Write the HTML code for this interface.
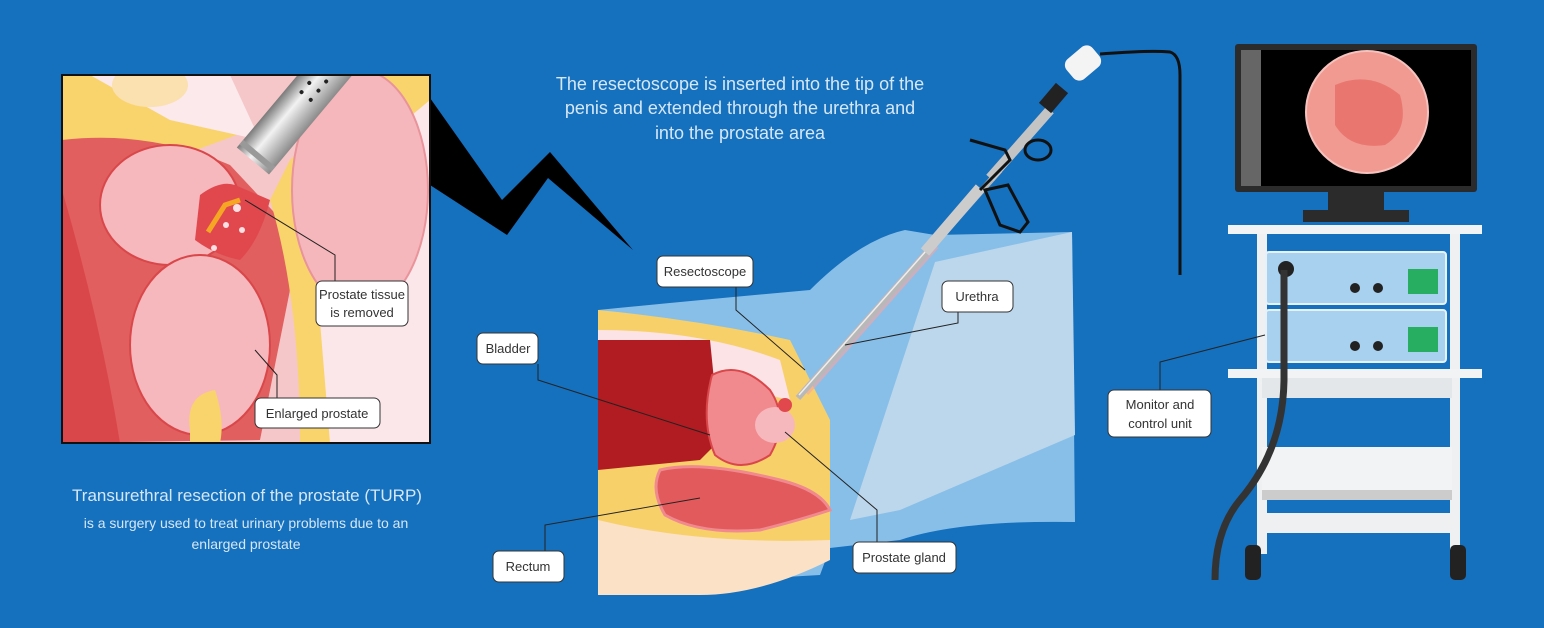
<!DOCTYPE html>
<html><head><meta charset="utf-8"><style>
html,body{margin:0;padding:0;background:#1570bd;}
svg{display:block;font-family:"Liberation Sans",sans-serif;}
.lb{fill:#fff;stroke:#333;stroke-width:1;}
.lt{font-size:13px;fill:#333;text-anchor:middle;}
.ln{stroke:#222;stroke-width:1;fill:none;}
</style></head><body>
<svg width="1544" height="628" viewBox="0 0 1544 628" xmlns="http://www.w3.org/2000/svg">
<defs>
<linearGradient id="met" x1="0" y1="0" x2="1" y2="0">
<stop offset="0" stop-color="#7a7a7a"/><stop offset="0.4" stop-color="#f2f2f2"/><stop offset="1" stop-color="#8a8a8a"/>
</linearGradient>
<clipPath id="ic"><rect x="62" y="75" width="368" height="368"/></clipPath>
</defs>
<rect width="1544" height="628" fill="#1570bd"/>

<polygon points="430,98 502,200 550,152 633,250 548,178 507,235 430,185" fill="#000"/>

<g clip-path="url(#ic)">
<rect x="62" y="75" width="368" height="368" fill="#f6c7c9"/>
<path d="M62,75 L200,75 Q230,120 250,130 L62,200Z" fill="#f9d46c"/>
<path d="M90,75 L230,75 L260,140 L170,120Z" fill="#fbe9ec"/>
<ellipse cx="150" cy="85" rx="38" ry="22" fill="#fbe0b0"/>
<path d="M62,140 Q150,130 230,165 L300,240 L260,440 L62,443Z" fill="#e15f5f"/>
<path d="M62,190 L62,443 L120,443 Q100,320 62,190Z" fill="#d9474a"/>
<path d="M290,160 L380,75 L430,75 L430,443 L300,443 Q300,300 270,200Z" fill="#f9d46c"/>
<path d="M310,200 L430,100 L430,443 L330,443Z" fill="#fbe6ea"/>
<ellipse cx="360" cy="190" rx="68" ry="120" fill="#f5b7bb" stroke="#e8949a" stroke-width="2"/>
<ellipse cx="170" cy="205" rx="70" ry="60" fill="#f6b8bc" stroke="#d9474a" stroke-width="2"/>
<ellipse cx="200" cy="345" rx="70" ry="90" fill="#f6b8bc" stroke="#d9474a" stroke-width="2"/>
<path d="M190,430 Q185,395 215,390 Q225,420 220,443 L190,443Z" fill="#f9d46c"/>
<path d="M200,195 Q220,180 235,185 L270,200 Q260,240 240,260 Q215,255 195,240Z" fill="#e0484e"/>
<path d="M208,232 L225,205 L240,200" stroke="#f5a623" stroke-width="5" fill="none"/>
<circle cx="237" cy="208" r="4" fill="#fbe0e3"/><circle cx="226" cy="225" r="3" fill="#fbe0e3"/><circle cx="214" cy="248" r="3" fill="#fbe0e3"/><circle cx="242" cy="230" r="3" fill="#fbe0e3"/>
<g transform="translate(265,145) rotate(40)">
<rect x="-20" y="-120" width="42" height="140" fill="url(#met)"/>
<rect x="-20" y="10" width="42" height="6" fill="#999"/>
<g fill="#222"><circle cx="-6" cy="-100" r="2"/><circle cx="6" cy="-100" r="2"/><circle cx="-6" cy="-88" r="2"/><circle cx="6" cy="-88" r="2"/><circle cx="-6" cy="-76" r="2"/><circle cx="6" cy="-76" r="2"/><circle cx="-6" cy="-64" r="2"/><circle cx="6" cy="-64" r="2"/></g>
</g>
</g>
<rect x="62" y="75" width="368" height="368" fill="none" stroke="#111" stroke-width="2"/>
<path class="ln" d="M245,200 L335,255 L335,283"/>
<path class="ln" d="M255,350 L277,375 L277,400"/>
<rect class="lb" x="316" y="281" width="92" height="45" rx="6"/>
<text class="lt" x="362" y="299">Prostate tissue</text><text class="lt" x="362" y="317">is removed</text>
<rect class="lb" x="255" y="398" width="125" height="30" rx="6"/>
<text class="lt" x="317" y="418">Enlarged prostate</text>

<path d="M598,310 Q700,300 810,290 Q860,240 905,230 L935,235 L1072,232 L1075,522 Q960,520 900,540 L830,548 L820,575 L650,585 L598,590Z" fill="#8ec3ea" opacity="0.95"/>
<path d="M935,262 L1072,232 L1075,435 L900,510 L850,520Z" fill="#bcd7ec"/>
<path d="M598,310 Q700,320 790,340 L830,420 L830,548 Q780,590 700,590 L598,590Z" fill="#f8d06a"/>
<path d="M598,330 Q700,330 780,360 L790,400 L700,380 L598,360Z" fill="#fbe3e6"/>
<path d="M598,340 L710,340 L720,440 L700,460 L598,470Z" fill="#b01c22"/>
<path d="M712,375 Q740,360 770,390 Q790,420 770,455 Q740,475 715,455 Q700,420 712,375Z" fill="#f08a8e" stroke="#d9474a" stroke-width="2"/>
<ellipse cx="775" cy="425" rx="20" ry="18" fill="#f6b8bc"/>
<path d="M660,470 Q700,460 780,480 Q820,490 830,510 Q800,520 760,530 Q700,535 665,515 Q650,490 660,470Z" fill="#e35a5c" stroke="#f08a8e" stroke-width="3"/>
<path d="M598,520 Q700,545 830,540 L830,560 Q760,595 700,595 L598,595Z" fill="#fbe1c6"/>
<line x1="805" y1="392" x2="935" y2="245" stroke="#f6a5a5" stroke-width="9" opacity="0.6"/>
<line x1="798" y1="398" x2="1000" y2="170" stroke="#b8b8b8" stroke-width="6"/>
<line x1="799" y1="395" x2="1000" y2="167" stroke="#eee" stroke-width="1.5"/>
<line x1="925" y1="252" x2="980" y2="188" stroke="#ccc" stroke-width="11"/>
<line x1="990" y1="178" x2="1050" y2="110" stroke="#c4c4c4" stroke-width="10"/>
<line x1="1045" y1="108" x2="1062" y2="88" stroke="#222" stroke-width="16"/>
<rect x="1066" y="50" width="34" height="26" rx="8" fill="#f4f4f4" transform="rotate(-40 1083 63)"/>
<path d="M1100,54 Q1150,50 1170,52 Q1180,55 1180,75 L1180,275" stroke="#111" stroke-width="3" fill="none"/>
<path d="M970,140 L1005,150 L1010,160 L980,190" stroke="#111" stroke-width="3" fill="none"/>
<ellipse cx="1038" cy="150" rx="13" ry="10" fill="none" stroke="#111" stroke-width="3"/>
<path d="M985,190 L1000,225 L1020,232 L1028,222 L1008,185Z" fill="none" stroke="#111" stroke-width="3"/>
<circle cx="785" cy="405" r="7" fill="#e0484e"/>
<path class="ln" d="M736,287 L736,310 L805,370"/>
<rect class="lb" x="657" y="256" width="96" height="31" rx="6"/><text class="lt" x="705" y="276">Resectoscope</text>
<path class="ln" d="M958,312 L958,323 L845,345"/>
<rect class="lb" x="942" y="281" width="71" height="31" rx="6"/><text class="lt" x="977" y="301">Urethra</text>
<path class="ln" d="M538,364 L538,380 L710,435"/>
<rect class="lb" x="477" y="333" width="61" height="31" rx="6"/><text class="lt" x="508" y="353">Bladder</text>
<path class="ln" d="M545,551 L545,525 L700,498"/>
<rect class="lb" x="493" y="551" width="71" height="31" rx="6"/><text class="lt" x="528" y="571">Rectum</text>
<path class="ln" d="M877,542 L877,510 L785,432"/>
<rect class="lb" x="853" y="542" width="103" height="31" rx="6"/><text class="lt" x="904" y="562">Prostate gland</text>

<rect x="1235" y="44" width="242" height="148" rx="3" fill="#2b2b2b"/>
<rect x="1241" y="50" width="230" height="136" fill="#000"/>
<rect x="1241" y="50" width="20" height="136" fill="#666"/>
<circle cx="1367" cy="112" r="61" fill="#f09a92" stroke="#f6c2bd" stroke-width="2"/>
<path d="M1335,85 Q1370,70 1400,95 Q1410,130 1385,145 Q1350,150 1335,125Z" fill="#e9776f"/>
<rect x="1328" y="190" width="56" height="22" fill="#2b2b2b"/>
<rect x="1303" y="210" width="106" height="12" fill="#2b2b2b"/>
<rect x="1228" y="225" width="254" height="9" fill="#f1f3f5"/>
<rect x="1257" y="234" width="10" height="320" fill="#eef0f2"/>
<rect x="1450" y="234" width="10" height="320" fill="#eef0f2"/>
<rect x="1266" y="252" width="180" height="52" rx="3" fill="#a7d1ef" stroke="#e6f1fa" stroke-width="2"/>
<rect x="1266" y="310" width="180" height="52" rx="3" fill="#a7d1ef" stroke="#e6f1fa" stroke-width="2"/>
<rect x="1408" y="269" width="30" height="25" fill="#27ae60"/><rect x="1408" y="327" width="30" height="25" fill="#27ae60"/>
<circle cx="1286" cy="269" r="8" fill="#222"/><circle cx="1355" cy="288" r="5" fill="#222"/><circle cx="1378" cy="288" r="5" fill="#222"/><circle cx="1355" cy="346" r="5" fill="#222"/><circle cx="1378" cy="346" r="5" fill="#222"/>
<rect x="1228" y="369" width="254" height="9" fill="#f1f3f5"/>
<rect x="1262" y="378" width="190" height="20" fill="#e4e7ea"/>
<rect x="1262" y="447" width="190" height="53" fill="#f2f3f4"/>
<rect x="1262" y="490" width="190" height="10" fill="#ccc"/>
<rect x="1257" y="513" width="200" height="20" fill="#eef0f2"/>
<rect x="1245" y="545" width="16" height="35" rx="5" fill="#222"/><rect x="1450" y="545" width="16" height="35" rx="5" fill="#222"/>
<path d="M1284,270 L1284,380 Q1283,450 1240,500 Q1215,530 1215,580" stroke="#333" stroke-width="7" fill="none"/>
<path class="ln" d="M1160,392 L1160,362 L1265,335"/>
<rect class="lb" x="1108" y="390" width="103" height="47" rx="6"/>
<text class="lt" x="1160" y="409">Monitor and</text><text class="lt" x="1160" y="428">control unit</text>

<g fill="#d6e7f6" font-size="18" text-anchor="middle">
<text x="740" y="90">The resectoscope is inserted into the tip of the</text>
<text x="740" y="114">penis and extended through the urethra and</text>
<text x="740" y="139">into the prostate area</text>
</g>
<text x="247" y="501" fill="#d6e7f6" font-size="17" text-anchor="middle">Transurethral resection of the prostate (TURP)</text>
<g fill="#d6e7f6" font-size="14" text-anchor="middle">
<text x="246" y="528">is a surgery used to treat urinary problems due to an</text>
<text x="246" y="549">enlarged prostate</text>
</g>
</svg>
</body></html>
